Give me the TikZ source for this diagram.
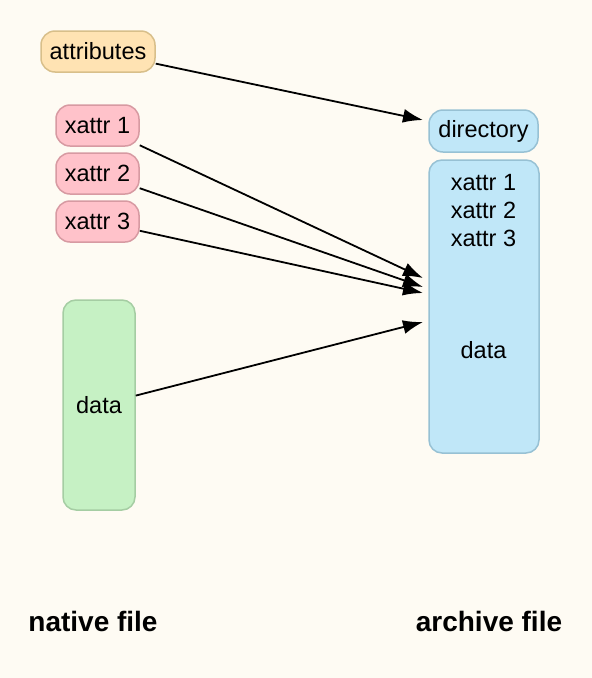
\documentclass[tikz,border=0pt]{standalone}
\usepackage{fontspec}
\setmainfont{Liberation Sans}
\usetikzlibrary{arrows.meta}
\definecolor{bg}{HTML}{FEFBF3}
\definecolor{orfill}{HTML}{FFE3B3}
\definecolor{ordraw}{HTML}{D8BF8A}
\definecolor{pkfill}{HTML}{FFC2CA}
\definecolor{pkdraw}{HTML}{D79AA2}
\definecolor{grfill}{HTML}{C6F1C4}
\definecolor{grdraw}{HTML}{A5CDA3}
\definecolor{blfill}{HTML}{C0E7F8}
\definecolor{bldraw}{HTML}{97C1D4}
\tikzset{
  box/.style={draw, line width=1.5pt, inner sep=0pt, font=\fontsize{23.5}{27}\selectfont, text=black},
  pill/.style={box, rounded corners=14pt},
  tall/.style={box, rounded corners=13pt},
  conn/.style={line width=1.8pt, -{Latex[length=20pt,width=14pt]}},
  lbl/.style={font=\bfseries\fontsize{28}{32}\selectfont}
}
\begin{document}
\begin{tikzpicture}[x=1pt,y=-1pt]
\fill[bg] (0,0) rectangle (592,678);
\useasboundingbox (0,0) rectangle (592,678);
\node[pill, fill=orfill, draw=ordraw, minimum width=114pt, minimum height=41pt] (attr) at (98,51.5) {attributes};
\node[pill, fill=pkfill, draw=pkdraw, minimum width=83pt, minimum height=41pt] (x1) at (97.5,125.5) {xattr 1};
\node[pill, fill=pkfill, draw=pkdraw, minimum width=83pt, minimum height=41pt] (x2) at (97.5,173.5) {xattr 2};
\node[pill, fill=pkfill, draw=pkdraw, minimum width=83pt, minimum height=41pt] (x3) at (97.5,221.5) {xattr 3};
\node[tall, fill=grfill, draw=grdraw, minimum width=72pt, minimum height=210pt] (data) at (99,405) {data};
\node[pill, fill=blfill, draw=bldraw, minimum width=109pt, minimum height=42pt] (dir) at (483.5,131) {directory};
\node[tall, fill=blfill, draw=bldraw, minimum width=110pt, minimum height=293pt] (arch) at (484,306.5) {};
\node[box, draw=none] (ax1) at (483.5,183) {xattr 1};
\node[box, draw=none] (ax2) at (483.5,210.5) {xattr 2};
\node[box, draw=none] (ax3) at (483.5,238) {xattr 3};
\node[box, draw=none] (adata) at (483.5,350) {data};
\node[lbl] (nf) at (93,621) {native file};
\node[lbl] (af) at (489,621) {archive file};
\coordinate (e0) at (423,120);
\coordinate (e1) at (423,278);
\coordinate (e2) at (423,287);
\coordinate (e3) at (423,293);
\coordinate (e4) at (423,322);
\draw[conn] (attr) -- (e0);
\draw[conn] (x1) -- (e1);
\draw[conn] (x2) -- (e2);
\draw[conn] (x3) -- (e3);
\draw[conn] (data) -- (e4);
\end{tikzpicture}
\end{document}
